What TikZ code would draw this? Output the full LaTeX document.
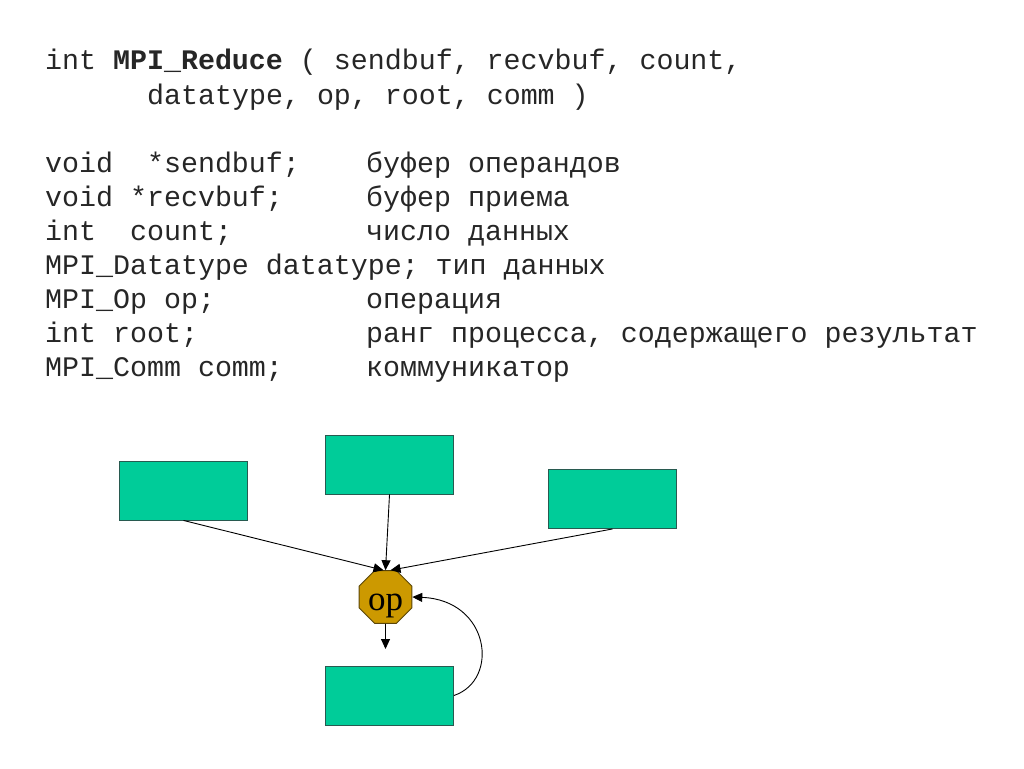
\documentclass[tikz,border=0pt]{standalone}
\usepackage{fontspec}
\setmainfont{Liberation Serif}
\setmonofont{Liberation Mono}
\usepackage{xcolor}
\usepackage{tikz}
\usetikzlibrary{shapes.geometric}
\usetikzlibrary{arrows.meta}

\definecolor{bufgreen}{RGB}{0,204,153}
\definecolor{bufedge}{RGB}{40,90,80}
\definecolor{opgold}{RGB}{204,153,0}
\definecolor{opedge}{RGB}{90,70,10}

\tikzset{
    codeline/.style = {anchor = base west, inner sep = 0pt, text = black!85,
        font = \ttfamily\fontsize{28.3}{34}\selectfont},
    buffer/.style = {rectangle, draw = bufedge, fill = bufgreen, line width = 0.9pt,
        minimum width = 128pt, minimum height = 59pt, inner sep = 0pt},
    opnode/.style = {regular polygon, regular polygon sides = 8, draw = opedge,
        fill = opgold, line width = 0.9pt, minimum size = 57pt, inner sep = 0pt,
        text height = 28pt, text depth = 2pt,
        font = \fontsize{35}{35}\selectfont},
    link/.style = {line width = 0.9pt, -{Triangle[length = 10pt, width = 9pt]}}
}

\begin{document}
\begin{tikzpicture}[x = 1pt, y = -1pt]
        \useasboundingbox (0, 0) rectangle (1024, 768);

        \node[codeline] (head1) at (45, 70)
            {int \textbf{MPI\_Reduce} ( sendbuf, recvbuf, count,};
        \node[codeline] (head2) at (147, 104) {datatype, op, root, comm )};

        \node[codeline] (sendbuf) at (45, 172) {void\ \ *sendbuf;};
        \node[codeline] (recvbuf) at (45, 206) {void *recvbuf;};
        \node[codeline] (count) at (45, 240) {int\ \ count;};
        \node[codeline] (datatype) at (45, 274) {MPI\_Datatype datatype; тип данных};
        \node[codeline] (op) at (45, 308) {MPI\_Op op;};
        \node[codeline] (root) at (45, 342) {int root;};
        \node[codeline] (comm) at (45, 376) {MPI\_Comm comm;};

        \node[codeline] (sendbufdesc) at (366, 172) {буфер операндов};
        \node[codeline] (recvbufdesc) at (366, 206) {буфер приема};
        \node[codeline] (countdesc) at (366, 240) {число данных};
        \node[codeline] (opdesc) at (366, 308) {операция};
        \node[codeline] (rootdesc) at (366, 342) {ранг процесса, содержащего результат};
        \node[codeline] (commdesc) at (366, 376) {коммуникатор};

        \node[buffer] (buf1) at (183.5, 490.5) {};
        \node[buffer] (buf2) at (389.5, 464.5) {};
        \node[buffer] (buf3) at (612.5, 499) {};
        \node[buffer] (result) at (389.5, 695.5) {};

        \node[opnode] (reduceop) at (385.5, 597) {op};
        \coordinate (opout) at (385.5, 649);

        \draw[link] (buf1.south) -- ([xshift = -2pt]reduceop.north);
        \draw[link] (buf2.south) -- (reduceop.north);
        \draw[link] (buf3.south) -- ([xshift = 5pt]reduceop.north);
        \draw[link] (reduceop.south) -- (opout);
        \draw[link] (result.east) .. controls (500, 680) and (490, 600) .. (reduceop.east);
\end{tikzpicture}
\end{document}
